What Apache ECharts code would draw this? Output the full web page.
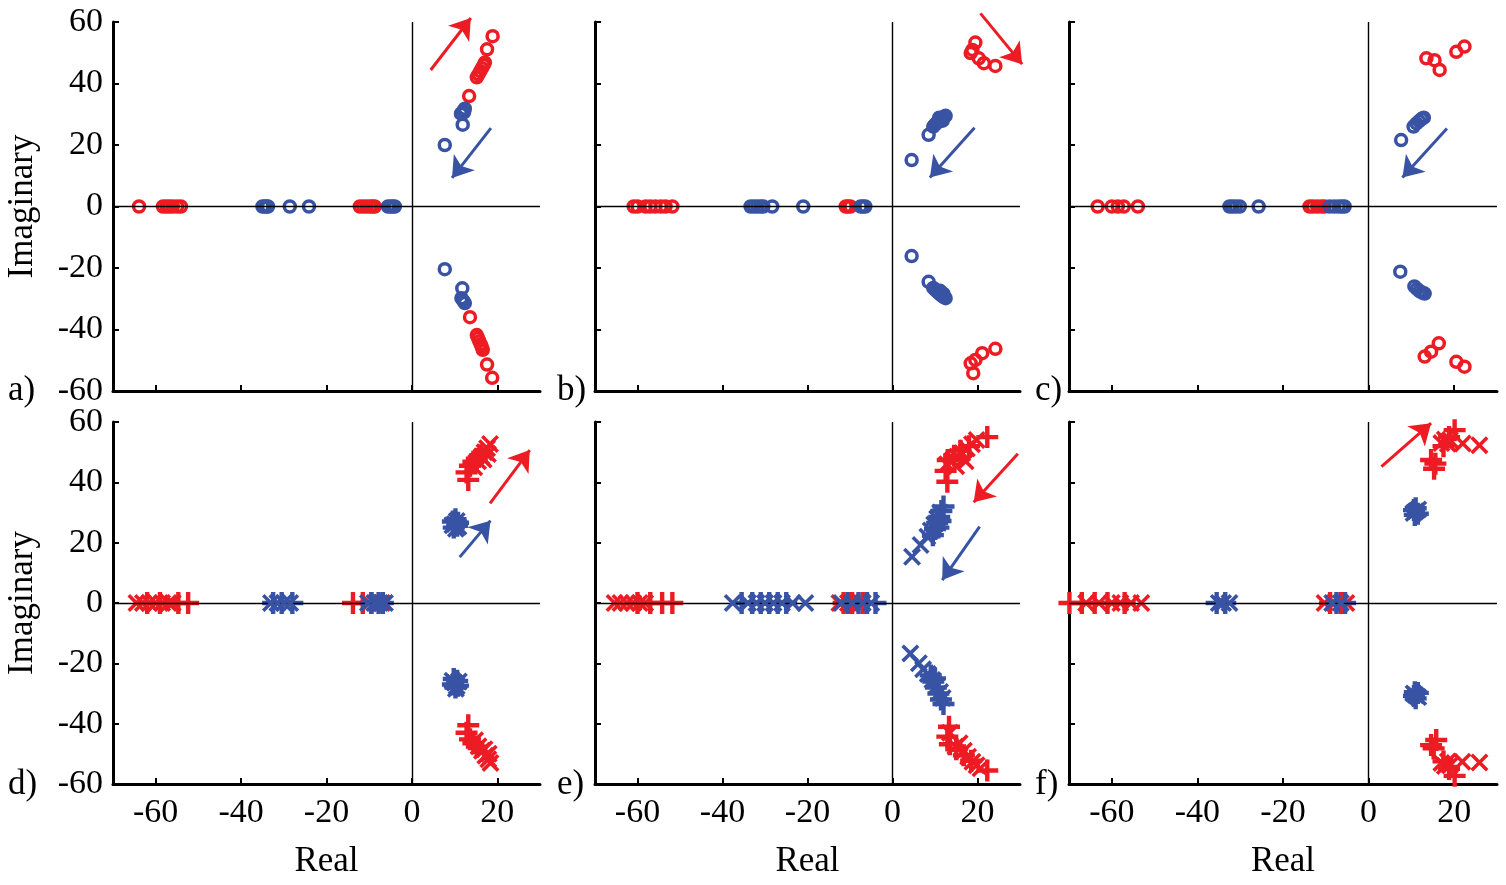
<!DOCTYPE html>
<html>
<head>
<meta charset="utf-8">
<script src="https://cdn.jsdelivr.net/npm/echarts@6/dist/echarts.min.js"></script>
<style>
html,body{margin:0;padding:0;background:#fff}
#chart{width:1506px;height:885px}
</style>
</head>
<body>
<div id="chart"></div>
<script>
var RED = '#ED1C24';
var BLUE = '#3953A4';
var FONT = 'Liberation Serif';

var xTicks = [-60, -40, -20, 0, 20];
var yTicks = [-60, -40, -20, 0, 20, 40, 60];

// a) circles
var aRedCircle = [
    [-63.9,0],[-58.3,0],[-57.5,0],[-56.8,0],[-56,0],[-55,0],[-54.1,0],
    [-12.2,0],[-11.4,0],[-10.6,0],[-9.8,0],[-9.2,0],[-8.7,0],
    [13.4,35.9],[15.2,42],[15.6,43],[16,44],[16.4,45],[16.8,46],[17.1,46.8],[17.6,51.1],[18.9,55.4],
    [13.6,-36],[15.2,-41.8],[15.5,-42.8],[15.8,-43.8],[16.1,-44.8],[16.4,-45.7],[16.6,-46.6],[17.6,-51.4],[18.8,-55.7]
];
var aBlueCircle = [
    [-35,0],[-34.5,0],[-34,0],[-33.7,0],[-28.6,0],[-24.1,0],[-5.6,0],[-5,0],[-4.5,0],[-4,0],
    [7.7,20],[11.9,26.6],[11.5,30.2],[12,31],[12.4,31.8],[12.2,30.6],
    [7.7,-20.4],[11.8,-26.6],[11.6,-29.8],[12,-30.6],[12.4,-31.4]
];
// b) circles
var bRedCircle = [
    [-60.9,0],[-60,0],[-58.1,0],[-57,0],[-55.8,0],[-54.5,0],[-53.4,0],[-51.8,0],
    [-11,0],[-10.5,0],[-9.9,0],
    [19.5,53.3],[18.8,50.9],[18.4,49.9],[20.3,48.2],[21.5,46.6],[24.2,45.7],
    [24.2,-46.3],[21.1,-47.7],[19.5,-49.9],[18.4,-51],[19,-54.2]
];
var bBlueCircle = [
    [-33.4,0],[-32.6,0],[-31.8,0],[-31,0],[-30.4,0],[-28.3,0],[-21,0],[-7.5,0],[-7,0],[-6.4,0],
    [4.5,15.1],[8.5,23.3],[9.6,26],[10,26.6],[10.4,27.2],[10.8,27.8],[11.2,28.3],[11.6,28.7],[12,29.1],[12.5,29.5],[11,28.9],[11.8,27.9],
    [4.5,-16.1],[8.5,-24.5],[9.6,-26.5],[10,-27],[10.4,-27.5],[10.8,-28],[11.2,-28.5],[11.6,-29],[12,-29.4],[12.5,-29.8],[11.2,-27.4],[12,-28.4]
];
// c) circles
var cRedCircle = [
    [-63.3,0],[-60,0],[-58.6,0],[-57.2,0],[-53.9,0],
    [-13.8,0],[-13,0],[-12,0],[-11,0],[-10.3,0],
    [13.5,48.2],[15.4,47.6],[16.6,44.4],[20.5,50.3],[22.4,52],
    [13.1,-48.8],[14.6,-47.2],[16.4,-44.5],[20.5,-50.5],[22.4,-52.1]
];
var cBlueCircle = [
    [-32.5,0],[-31.8,0],[-31,0],[-30.1,0],[-25.7,0],[-9.1,0],[-8,0],[-7,0],[-6.2,0],[-5.6,0],
    [7.6,21.6],[10.5,26],[11.2,27],[11.8,27.8],[12.4,28.5],[12.9,28.9],
    [7.4,-21.2],[10.7,-26],[11.3,-26.8],[11.9,-27.5],[12.5,-28],[13.1,-28.3]
];
// d) plus / cross
var dRedPlus = [
    [-62,0],[-59,0],[-54.7,0],[-52.4,0],[-13.8,0],[-11.5,0],[-9.5,0],
    [13.2,40.8],[12.8,43.3],[13.6,45.5],[14.4,46.8],[15.2,47.8],[16,49],
    [13.2,-40.5],[12.8,-43],[13.6,-45.2],[14.4,-46.5],[15.2,-47.6]
];
var dRedCross = [
    [-64.5,0],[-63,0],[-61.5,0],[-60,0],[-58.5,0],[-57,0],[-56,0],[-10,0],[-8.5,0],[-7,0],
    [14.6,45],[15.5,47],[16.3,48.5],[17,50],[17.6,51.3],[18.3,52.7],[16.8,47.6],[17.8,49.4],
    [14.8,-45.5],[15.6,-47.5],[16.4,-49],[17.2,-50.6],[17.9,-51.8],[18.4,-53],[17,-48.5],[18,-50]
];
var dBluePlus = [
    [-32.5,0],[-30.5,0],[-28,0],[-9.5,0],[-7.8,0],[-6.8,0],
    [9.6,27],[10.6,25.6],[10.2,27.8],[9.8,25],[10.8,26.6],
    [9.6,-27],[10.6,-25.8],[10.2,-28],[9.8,-25.2],[10.8,-27.4]
];
var dBlueCross = [
    [-33,0],[-31.5,0],[-30,0],[-28.5,0],[-10.3,0],[-8.8,0],[-7.5,0],[-6.3,0],
    [10,26.2],[10.5,27.2],[9.5,25.8],[10.9,25.3],[10.3,24.6],
    [10,-26.4],[10.5,-27.6],[9.5,-25.8],[11,-26],[10.3,-28.4]
];
// e) plus / cross
var eRedPlus = [
    [-60,0],[-57,0],[-54.2,0],[-51.8,0],[-11.5,0],[-9.5,0],[-7,0],
    [12.9,40.2],[12.5,43.8],[13,47.4],[14.5,48.8],[16,50.5],[18,52],[22.3,55],
    [13.3,-41],[12.9,-44.3],[13.5,-46.8],[15,-48.5],[16.8,-50.5],[18.5,-52.3],[22.3,-55.5]
];
var eRedCross = [
    [-65.4,0],[-64,0],[-62.5,0],[-61,0],[-59.5,0],[-58.2,0],[-12.5,0],[-10.5,0],[-8,0],
    [12.8,46],[14,47.2],[15.2,48.5],[16.4,49.6],[17.5,51.2],[18.7,52.6],[19.8,54],[15,45.3],[17.2,47],
    [13.5,-43],[14.8,-47.6],[15.8,-46.5],[16.8,-49],[17.8,-51],[18.8,-52.6],[19.8,-53.8],[20.7,-54.8]
];
var eBluePlus = [
    [-35.5,0],[-33,0],[-31,0],[-29,0],[-27,0],[-25,0],[-10.5,0],[-8,0],[-6,0],[-4,0],
    [9.5,22.5],[10,24.5],[10.5,26.5],[11,28.5],[11.5,30.5],[12,32],[10.8,25],[11.3,27.2],
    [9,-24],[9.6,-26],[10.2,-28],[10.8,-30],[11.4,-32],[12,-33.5],[10,-25]
];
var eBlueCross = [
    [-37.6,0],[-34,0],[-32,0],[-30,0],[-28,0],[-26,0],[-23.5,0],[-20.5,0],[-12,0],[-9.5,0],[-7,0],[-5,0],
    [4.6,15.3],[6.6,19.2],[8.2,22],[9,24],[9.8,26],[10.5,28],[11.2,30],
    [4.2,-16.7],[6.2,-20],[7.2,-22],[8.3,-23.5],[9.4,-25.5],[10.4,-27.5],[11.2,-29.5],[11.8,-31.5]
];
// f) plus / cross
var fRedPlus = [
    [-69.9,0],[-67,0],[-64,0],[-61,0],[-57,0],[-9,0],[-6.5,0],
    [14.6,47.4],[15.3,44.5],[15.6,46.2],[20.1,57.3],[17.5,52],[18.8,55],
    [14.6,-47.1],[15.8,-45.4],[15.2,-48.2],[20.1,-57.3],[17.5,-52.5],[18.8,-55]
];
var fRedCross = [
    [-66,0],[-63,0],[-60,0],[-58,0],[-55.5,0],[-53.1,0],[-10.3,0],[-8,0],[-5.2,0],
    [17,53],[17.8,54.2],[18.5,52.8],[19,54],[22,52.9],[25.9,52.3],
    [17,-53],[17.8,-54],[18.5,-52.5],[19,-53.8],[21.9,-52.6],[25.9,-52.9]
];
var fBluePlus = [
    [-35.5,0],[-33.5,0],[-7.5,0],[-5.5,0],
    [10.6,30.8],[11.5,29.6],[11,31.4],[10.8,29.2],
    [10.6,-30.8],[11.5,-29.8],[11,-31.6],[10.8,-29.6]
];
var fBlueCross = [
    [-35,0],[-34,0],[-32.5,0],[-8.5,0],[-6.5,0],
    [11,30.4],[10.5,29.8],[11.6,31],
    [11,-30.6],[10.5,-30],[11.6,-31.2]
];

// arrows: [start, end]
var aRedArrow = [[4.4,44.4],[13.8,61.3]];
var aBlueArrow = [[18.5,25.5],[9.4,9.3]];
var bRedArrow = [[20.7,62.8],[30.5,46.3]];
var bBlueArrow = [[19.3,25.6],[8.8,9.4]];
var cBlueArrow = [[18.3,25.4],[7.9,9.4]];
var dRedArrow = [[18.3,33],[27.6,50.7]];
var dBlueArrow = [[11.2,15.2],[18.4,27.3]];
var eRedArrow = [[29.5,49.5],[19.1,33.4]];
var eBlueArrow = [[20.5,25.3],[11.7,7.6]];
var fRedArrow = [[3,45.2],[14.6,59.6]];

var SYM_PLUS = 'path://M-1,-5L1,-5L1,-1L5,-1L5,1L1,1L1,5L-1,5L-1,1L-5,1L-5,-1L-1,-1Z';
var SYM_CROSS = 'path://M-5,-3.6L-3.6,-5L0,-1.4L3.6,-5L5,-3.6L1.4,0L5,3.6L3.6,5L0,1.4L-3.6,5L-5,3.6L-1.4,0Z';

var option = {
    animation: false,
    backgroundColor: '#fff',
    grid: [],
    xAxis: [],
    yAxis: [],
    series: [],
    graphic: []
};

function arrowSeries(gi, color, arrow) {
    return {
        type: 'lines', coordinateSystem: 'cartesian2d', xAxisIndex: gi, yAxisIndex: gi,
        clip: false, silent: true, z: 6,
        symbol: ['none', 'arrow'],
        symbolSize: 20,
        lineStyle: {color: color, width: 3, opacity: 1, curveness: 0},
        data: [{coords: arrow}]
    };
}

function addPanel(gi, box, letter, showX, showY, groups, arrows) {
    option.grid.push({left: box[0], top: box[1], width: box[2], height: box[3], containLabel: false, outerBoundsMode: 'none'});
    option.xAxis.push({
        gridIndex: gi, type: 'value', min: -70, max: 30,
        name: showX ? 'Real' : '', nameLocation: 'middle', nameGap: 60,
        nameTextStyle: {fontFamily: FONT, fontSize: 35, color: '#000'},
        axisLine: {show: true, onZero: false, lineStyle: {color: '#000', width: 3}},
        axisTick: {show: true, inside: true, length: 6, customValues: xTicks, lineStyle: {color: '#000', width: 2}},
        axisLabel: {show: showX, customValues: xTicks, margin: 12, fontFamily: FONT, fontSize: 34, color: '#000'},
        splitLine: {show: false}
    });
    option.yAxis.push({
        gridIndex: gi, type: 'value', min: -60, max: 60, interval: 20,
        name: showY ? 'Imaginary' : '', nameLocation: 'middle', nameGap: 73, nameRotate: 90,
        nameTextStyle: {fontFamily: FONT, fontSize: 35, color: '#000'},
        axisLine: {show: true, onZero: false, lineStyle: {color: '#000', width: 3}},
        axisTick: {show: true, inside: true, length: 6, customValues: yTicks, lineStyle: {color: '#000', width: 2}},
        axisLabel: {show: showY, customValues: yTicks, margin: 10, fontFamily: FONT, fontSize: 34, color: '#000'},
        splitLine: {show: false}
    });
    groups.forEach(function (g, k) {
        var s = {type: 'scatter', xAxisIndex: gi, yAxisIndex: gi, data: g.data, clip: false, silent: true, z: 2 + k};
        if (g.shape === 'circle') {
            s.symbol = 'circle';
            s.symbolSize = 11;
            s.itemStyle = {color: 'rgba(0,0,0,0)', borderColor: g.color, borderWidth: 3.5, opacity: 1};
        } else if (g.shape === 'plus') {
            s.symbol = SYM_PLUS;
            s.symbolSize = 22;
            s.itemStyle = {color: g.color, opacity: 1};
        } else {
            s.symbol = SYM_CROSS;
            s.symbolSize = 18;
            s.itemStyle = {color: g.color, opacity: 1};
        }
        option.series.push(s);
    });
    // zero lines
    option.series.push({
        type: 'scatter', xAxisIndex: gi, yAxisIndex: gi, data: [], clip: false, silent: true, z: 5,
        markLine: {
            silent: true, animation: false, symbol: ['none', 'none'],
            label: {show: false},
            lineStyle: {color: '#000', width: 1.4, type: 'solid'},
            emphasis: {disabled: true},
            data: [{xAxis: 0}, {yAxis: 0}]
        }
    });
    arrows.forEach(function (a) {
        option.series.push(arrowSeries(gi, a.color, a.pts));
    });
    option.graphic.push({
        type: 'text', left: letter[1], top: letter[2],
        style: {text: letter[0], font: '35px "Liberation Serif"', fill: '#000'}
    });
}

addPanel(0, [113, 22, 427, 369], ['a)', 8, 373], false, true,
    [{shape: 'circle', color: RED, data: aRedCircle}, {shape: 'circle', color: BLUE, data: aBlueCircle}],
    [{color: RED, pts: aRedArrow}, {color: BLUE, pts: aBlueArrow}]);
addPanel(1, [595, 22, 425, 369], ['b)', 557, 373], false, false,
    [{shape: 'circle', color: RED, data: bRedCircle}, {shape: 'circle', color: BLUE, data: bBlueCircle}],
    [{color: RED, pts: bRedArrow}, {color: BLUE, pts: bBlueArrow}]);
addPanel(2, [1069, 22, 428, 369], ['c)', 1035, 373], false, false,
    [{shape: 'circle', color: RED, data: cRedCircle}, {shape: 'circle', color: BLUE, data: cBlueCircle}],
    [{color: BLUE, pts: cBlueArrow}]);
addPanel(3, [113, 422, 427, 362], ['d)', 8, 767], true, true,
    [{shape: 'plus', color: RED, data: dRedPlus}, {shape: 'cross', color: RED, data: dRedCross},
     {shape: 'plus', color: BLUE, data: dBluePlus}, {shape: 'cross', color: BLUE, data: dBlueCross}],
    [{color: RED, pts: dRedArrow}, {color: BLUE, pts: dBlueArrow}]);
addPanel(4, [595, 422, 425, 362], ['e)', 557, 767], true, false,
    [{shape: 'plus', color: RED, data: eRedPlus}, {shape: 'cross', color: RED, data: eRedCross},
     {shape: 'plus', color: BLUE, data: eBluePlus}, {shape: 'cross', color: BLUE, data: eBlueCross}],
    [{color: RED, pts: eRedArrow}, {color: BLUE, pts: eBlueArrow}]);
addPanel(5, [1069, 422, 428, 362], ['f)', 1035, 767], true, false,
    [{shape: 'plus', color: RED, data: fRedPlus}, {shape: 'cross', color: RED, data: fRedCross},
     {shape: 'plus', color: BLUE, data: fBluePlus}, {shape: 'cross', color: BLUE, data: fBlueCross}],
    [{color: RED, pts: fRedArrow}]);

var myChart = echarts.init(document.getElementById('chart'));
myChart.setOption(option);
</script>
</body>
</html>
